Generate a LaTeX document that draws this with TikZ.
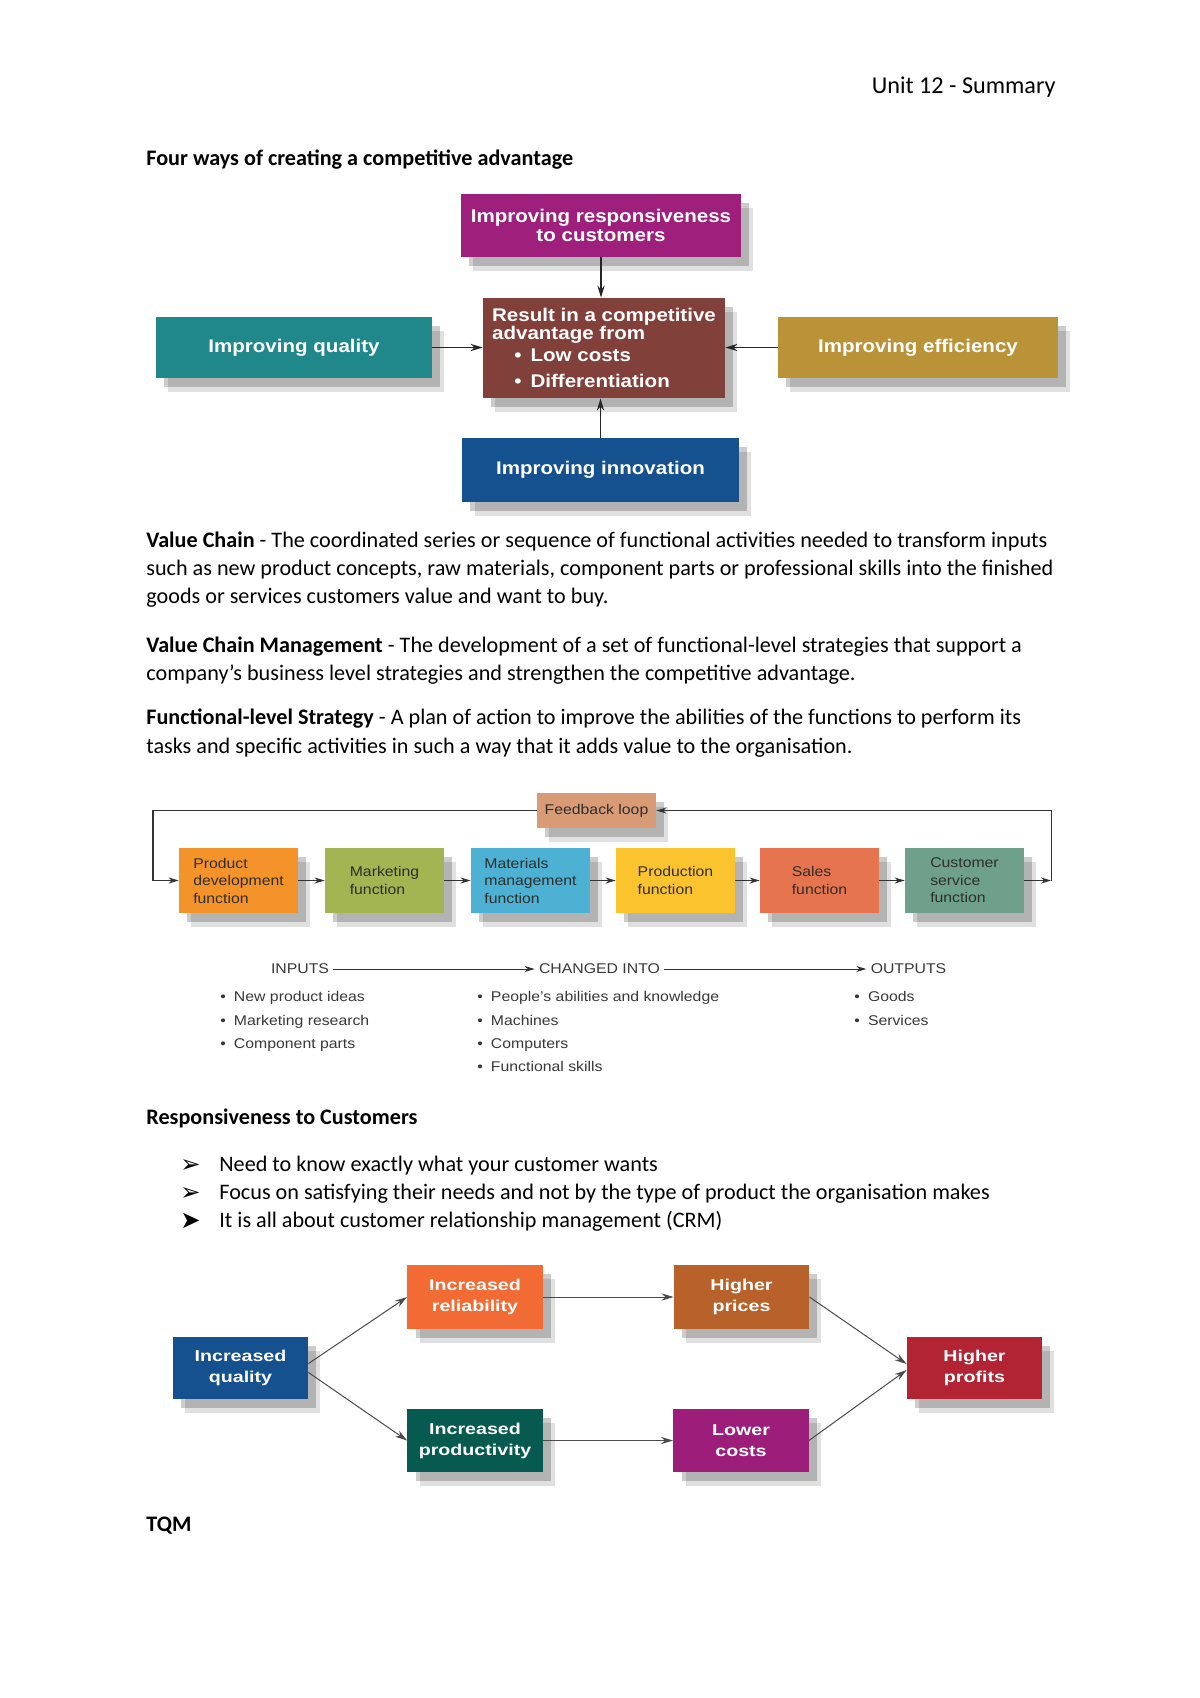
\documentclass[tikz,border=0pt]{standalone}
\usepackage{fontspec}
\setmainfont{Carlito}
\newfontfamily\figfont[FakeStretch=1.12]{Liberation Sans}
\newfontfamily\figfontw[FakeStretch=1.25]{Liberation Sans}
\newfontfamily\symfont{DejaVu Sans}
\usepackage{tikz}
\usetikzlibrary{arrows.meta,positioning,shadows}

\definecolor{respcol}{HTML}{9E1F7C}
\definecolor{rescol}{HTML}{82403A}
\definecolor{qualcol}{HTML}{20878A}
\definecolor{effcol}{HTML}{BA9338}
\definecolor{innocol}{HTML}{15508F}
\definecolor{fbcol}{HTML}{D89B76}
\definecolor{prodcol}{HTML}{F3932A}
\definecolor{markcol}{HTML}{A2B552}
\definecolor{matcol}{HTML}{4DB1D3}
\definecolor{prodncol}{HTML}{FBC42E}
\definecolor{salescol}{HTML}{E6744F}
\definecolor{servcol}{HTML}{6FA08C}
\definecolor{relcol}{HTML}{F26B35}
\definecolor{pricecol}{HTML}{B9612A}
\definecolor{profcol}{HTML}{B22433}
\definecolor{prodvcol}{HTML}{075A50}
\definecolor{costcol}{HTML}{9D1D7B}

\tikzset{
  body/.style={anchor=base west,inner sep=0pt,font=\fontsize{11}{13}\selectfont},
  boxshadow/.style={drop shadow={shadow xshift=6pt,shadow yshift=-7pt,opacity=0.12,fill=black},
    drop shadow={shadow xshift=4pt,shadow yshift=-4.5pt,opacity=0.2,fill=black}},
  bigbox/.style={boxshadow,fill=#1,text=white,inner sep=2pt,align=center,
    font=\figfont\bfseries\fontsize{9.1}{9.1}\selectfont,minimum width=137pt,minimum height=30.3pt},
  chainbox/.style={boxshadow,fill=#1,text=black!82,inner sep=1pt,align=left,
    font=\figfont\fontsize{7}{8.7}\selectfont,minimum width=59pt,minimum height=32.2pt},
  chaintext/.style={text=black!78,inner sep=2pt,font=\figfont\fontsize{7}{8.7}\selectfont},
  chainlist/.style={text=black!78,inner sep=0pt,anchor=north west,align=left,font=\figfont\fontsize{7}{11.6}\selectfont},
  flowbox/.style={boxshadow,fill=#1,text=white,inner sep=1pt,align=center,
    font=\figfontw\bfseries\fontsize{7.8}{10.4}\selectfont,minimum width=67pt,minimum height=31.5pt},
  arr/.style={-{Stealth[length=6pt,width=3.6pt]},line width=0.6pt,black!85},
  chainarr/.style={-{Stealth[length=5pt,width=3pt]},line width=0.5pt,black!80},
  flowarr/.style={-{Stealth[length=6pt,width=3.6pt]},line width=0.5pt,black!70}
}

\begin{document}
\begin{tikzpicture}[x=0.49607pt,y=-0.49607pt]
\fill[white] (0,0) rectangle (1200,1698);
\useasboundingbox (0,0) rectangle (1200,1698);

\node[body,anchor=base east,font=\fontsize{12}{14}\selectfont] (unit) at (1056,93) {Unit 12 - Summary};
\node[body,font=\bfseries\fontsize{11}{13}\selectfont] (fourways) at (146,165) {Four ways of creating a competitive advantage};

% four ways diagram
\node[bigbox=respcol,minimum width=139pt,minimum height=31.3pt] (resp) at (601,225.5) {Improving responsiveness\\to customers};
\node[bigbox=rescol,minimum width=120pt,minimum height=49.6pt,align=left] (result) at (604,348)
  {Result in a competitive\\advantage from\\[1.5pt]\hspace*{11pt}\textbullet\hspace*{4.5pt}Low costs\\[4pt]\hspace*{11pt}\textbullet\hspace*{4.5pt}Differentiation};
\node[bigbox=qualcol] (quality) at (294,347.5) {Improving quality};
\node[bigbox=effcol,minimum width=139pt] (efficiency) at (918,347.5) {Improving efficiency};
\node[bigbox=innocol,minimum height=31.7pt] (innovation) at (600.5,470) {Improving innovation};
\draw[arr] (resp.south) -- (resp.south |- result.north);
\draw[arr] (innovation.north) -- (innovation.north |- result.south);
\draw[arr] (quality.east) -- (quality.east -| result.west);
\draw[arr] (efficiency.west) -- (efficiency.west -| result.east);

% definitions
\node[body] (vc1) at (146,547) {\textbf{Value Chain} - The coordinated series or sequence of functional activities needed to transform inputs};
\node[body] (vc2) at (146,575) {such as new product concepts, raw materials, component parts or professional skills into the finished};
\node[body] (vc3) at (146,603) {goods or services customers value and want to buy.};
\node[body] (vcm1) at (146,652) {\textbf{Value Chain Management} - The development of a set of functional-level strategies that support a};
\node[body] (vcm2) at (146,680) {company’s business level strategies and strengthen the competitive advantage.};
\node[body] (fls1) at (146,724) {\textbf{Functional-level Strategy} - A plan of action to improve the abilities of the functions to perform its};
\node[body] (fls2) at (146,753) {tasks and specific activities in such a way that it adds value to the organisation.};

% value chain
\node[chainbox=fbcol,minimum height=17.4pt,align=center] (feedback) at (596.5,810.5) {Feedback loop};
\node[chainbox=prodcol] (product) at (238.5,880.5) {Product\\development\\function};
\node[chainbox=markcol] (marketing) at (384.5,880.5) {Marketing\\function};
\node[chainbox=matcol] (materials) at (530.5,880.5) {Materials\\management\\function};
\node[chainbox=prodncol] (production) at (675.5,880.5) {Production\\function};
\node[chainbox=salescol] (sales) at (819.5,880.5) {Sales\\function};
\node[chainbox=servcol] (service) at (964.5,880.5) {Customer\\service\\function};
\coordinate (loopL) at (153,880.5);
\coordinate (loopR) at (1051,880.5);
\foreach \a/\b in {product/marketing,marketing/materials,materials/production,production/sales,sales/service}
  \draw[chainarr] (\a) -- (\b);
\draw[chainarr] (service) -- (loopR);
\draw[chainarr] (loopR) |- (feedback);
\draw[chainarr] (feedback) -| (loopL) -- (product);

\node[chaintext] (inputs) at (300,969) {INPUTS};
\node[chaintext] (changed) at (599.5,969) {CHANGED INTO};
\node[chaintext] (outputs) at (908.5,969) {OUTPUTS};
\draw[chainarr] (inputs) -- (changed);
\draw[chainarr] (changed) -- (outputs);
\node[chainlist] (inlist) at (220,991) {\textbullet\hspace{4pt}New product ideas\\\textbullet\hspace{4pt}Marketing research\\\textbullet\hspace{4pt}Component parts};
\node[chainlist] (changedlist) at (477,991) {\textbullet\hspace{4pt}People’s abilities and knowledge\\\textbullet\hspace{4pt}Machines\\\textbullet\hspace{4pt}Computers\\\textbullet\hspace{4pt}Functional skills};
\node[chainlist] (outlist) at (854,991) {\textbullet\hspace{4pt}Goods\\\textbullet\hspace{4pt}Services};

% responsiveness
\node[body,font=\bfseries\fontsize{11}{13}\selectfont] (resphead) at (146,1124) {Responsiveness to Customers};
\node[body,font=\symfont\fontsize{12}{14}\selectfont] (mark1) at (180,1172) {➢};
\node[body,font=\symfont\fontsize{12}{14}\selectfont] (mark2) at (180,1200) {➢};
\node[body,font=\symfont\fontsize{12}{14}\selectfont] (mark3) at (180,1228) {➤};
\node[body] (point1) at (219,1171) {Need to know exactly what your customer wants};
\node[body] (point2) at (219,1199) {Focus on satisfying their needs and not by the type of product the organisation makes};
\node[body] (point3) at (219,1227) {It is all about customer relationship management (CRM)};

% quality flow
\node[flowbox=innocol,minimum height=30.8pt] (incqual) at (240.5,1368) {Increased\\quality};
\node[flowbox=relcol] (increl) at (475,1297) {Increased\\reliability};
\node[flowbox=pricecol] (hiprice) at (741.5,1297) {Higher\\prices};
\node[flowbox=profcol,minimum height=30.8pt] (hiprofit) at (974.5,1368) {Higher\\profits};
\node[flowbox=prodvcol] (incprod) at (475,1440.5) {Increased\\productivity};
\node[flowbox=costcol] (locost) at (741,1440.5) {Lower\\costs};
\draw[flowarr] ([yshift=2.2pt]incqual.east) -- (increl.west);
\draw[flowarr] ([yshift=-2.2pt]incqual.east) -- (incprod.west);
\draw[flowarr] (increl) -- (hiprice);
\draw[flowarr] (incprod) -- (locost);
\draw[flowarr] (hiprice.east) -- ([yshift=2pt]hiprofit.west);
\draw[flowarr] (locost.east) -- ([yshift=-1pt]hiprofit.west);

\node[body,font=\bfseries\fontsize{11}{13}\selectfont] (tqm) at (146,1531) {TQM};
\end{tikzpicture}
\end{document}
